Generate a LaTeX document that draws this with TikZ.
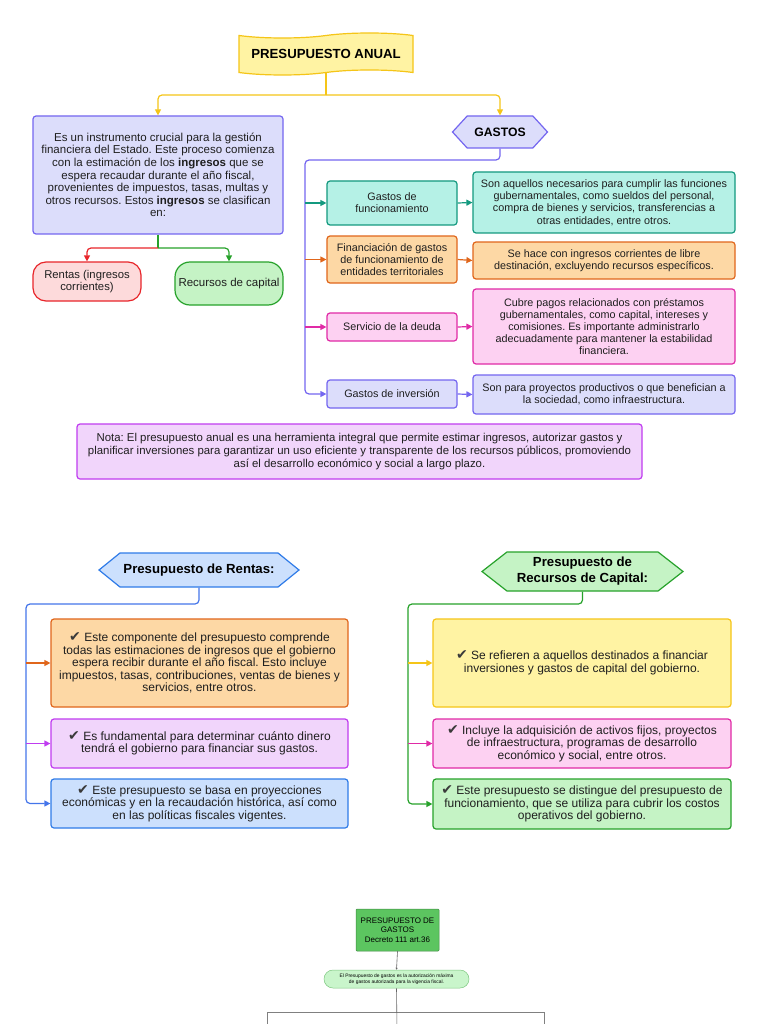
\documentclass[tikz,border=0pt]{standalone}
\usepackage{fontspec}
\setmainfont{Liberation Sans}
\newfontfamily\symfont{DejaVu Sans}
\usetikzlibrary{arrows.meta,positioning,shapes,shapes.symbols,calc}
\frenchspacing

\definecolor{ylwdraw}{HTML}{F5C518}
\definecolor{ylwfill}{HTML}{FFF3A3}
\definecolor{lavdraw}{HTML}{7466F0}
\definecolor{lavfill}{HTML}{DCDDFB}
\definecolor{reddraw}{HTML}{E8262B}
\definecolor{redfill}{HTML}{FDDADB}
\definecolor{grndraw}{HTML}{27A22B}
\definecolor{grnfill}{HTML}{C5F3C5}
\definecolor{tealdraw}{HTML}{13997F}
\definecolor{tealfill}{HTML}{B5F1E6}
\definecolor{orgdraw}{HTML}{E0661B}
\definecolor{orgfill}{HTML}{FDD8A5}
\definecolor{pnkdraw}{HTML}{E02AA6}
\definecolor{pnkfill}{HTML}{FDD1F2}
\definecolor{purdraw}{HTML}{C03CF0}
\definecolor{purfill}{HTML}{F1D5FB}
\definecolor{bludraw}{HTML}{2F7BE8}
\definecolor{blufill}{HTML}{CCE0FD}
\definecolor{chkgray}{HTML}{3A3A3A}
\definecolor{gasfill}{HTML}{5CC560}
\definecolor{pillfill}{HTML}{C9F5CB}

\newcommand{\chk}{{\symfont\fontsize{14}{12}\selectfont\color{chkgray}\char"2714}\ }

\begin{document}
\begin{tikzpicture}[
    x=1pt, y=-1pt,
    box/.style={rectangle, draw, rounded corners=3pt, line width=1.2pt, align=center, text=black!88, font=\fontsize{11.5}{12.6}\selectfont},
    small/.style={box, font=\fontsize{10.8}{12.2}\selectfont},
    item/.style={box, font=\fontsize{12}{12.5}\selectfont},
    hexa/.style={signal, signal to=east and west, draw, line width=1.2pt, align=center, font=\fontsize{13.2}{16}\selectfont\bfseries},
    arrow/.style={-{Triangle[length=6pt, width=6pt]}, line width=1.2pt, rounded corners=4pt},
    link/.style={line width=1.2pt, rounded corners=4pt}
]
\useasboundingbox (0,0) rectangle (768,1024);
\clip (0,0) rectangle (768,1024);
\fill[white] (0,0) rectangle (768,1024);

% Title
\node[tape, draw=ylwdraw, fill=ylwfill, line width=1.2pt, minimum width=174pt, minimum height=42pt, font=\fontsize{13.2}{15}\selectfont\bfseries] (title) at (326,54) {PRESUPUESTO ANUAL};

% Definition and income classes
\node[box, fill=lavfill, draw=lavdraw, minimum width=250pt, minimum height=118pt] (desc) at (158,175) {Es un instrumento crucial para la gestión\\financiera del Estado. Este proceso comienza\\con la estimación de los \textbf{ingresos} que se\\espera recaudar durante el año fiscal,\\provenientes de impuestos, tasas, multas y\\otros recursos. Estos \textbf{ingresos} se clasifican\\en:};
\node[box, fill=redfill, draw=reddraw, rounded corners=13pt, minimum width=108pt, minimum height=39pt, font=\fontsize{11.3}{12.5}\selectfont] (rentas) at (87,281.5) {Rentas (ingresos\\corrientes)};
\node[box, fill=grnfill, draw=grndraw, rounded corners=15pt, minimum width=108pt, minimum height=43pt, font=\fontsize{11.5}{12.5}\selectfont] (capital) at (229,283.5) {Recursos de capital};

% Gastos
\node[hexa, fill=lavfill, draw=lavdraw, signal pointer angle=95, minimum width=95pt, minimum height=32pt, font=\fontsize{12.2}{14}\selectfont\bfseries] (gastos) at (500,132) {GASTOS};

\node[small, fill=tealfill, draw=tealdraw, minimum width=130pt, minimum height=44pt] (func) at (392,203) {Gastos de\\funcionamiento};
\node[small, fill=orgfill, draw=orgdraw, minimum width=130pt, minimum height=47pt] (terr) at (392,259.5) {Financiación de gastos\\de funcionamiento de\\entidades territoriales};
\node[small, fill=pnkfill, draw=pnkdraw, minimum width=130pt, minimum height=28pt] (deuda) at (392,327) {Servicio de la deuda};
\node[small, fill=lavfill, draw=lavdraw, minimum width=130pt, minimum height=28pt] (inver) at (392,394) {Gastos de inversión};

\node[small, fill=tealfill, draw=tealdraw, minimum width=262pt, minimum height=61pt] (funcd) at (604,202.5) {Son aquellos necesarios para cumplir las funciones\\gubernamentales, como sueldos del personal,\\compra de bienes y servicios, transferencias a\\otras entidades, entre otros.};
\node[small, fill=orgfill, draw=orgdraw, minimum width=262pt, minimum height=37pt] (terrd) at (604,260.5) {Se hace con ingresos corrientes de libre\\destinación, excluyendo recursos específicos.};
\node[small, fill=pnkfill, draw=pnkdraw, minimum width=262pt, minimum height=75pt] (deudad) at (604,326.5) {Cubre pagos relacionados con préstamos\\gubernamentales, como capital, intereses y\\comisiones. Es importante administrarlo\\adecuadamente para mantener la estabilidad\\financiera.};
\node[small, fill=lavfill, draw=lavdraw, minimum width=262pt, minimum height=39pt] (inverd) at (604,394.5) {Son para proyectos productivos o que benefician a\\la sociedad, como infraestructura.};

% Note
\node[box, fill=purfill, draw=purdraw, minimum width=565pt, minimum height=55pt, font=\fontsize{11.4}{12.8}\selectfont] (nota) at (359.5,451.5) {Nota: El presupuesto anual es una herramienta integral que permite estimar ingresos, autorizar gastos y\\planificar inversiones para garantizar un uso eficiente y transparente de los recursos públicos, promoviendo\\así el desarrollo económico y social a largo plazo.};

% Connectors, top part
\coordinate (tsplit) at (326,95);
\draw[link, ylwdraw] (title.south) -- (tsplit);
\draw[arrow, ylwdraw] (tsplit) -| (desc.north);
\draw[arrow, ylwdraw] (tsplit) -| (gastos.north);

\coordinate (dsplit) at (158,248);
\draw[link, grndraw] (desc.south) -- (dsplit);
\draw[arrow, reddraw] (dsplit) -| (rentas.north);
\draw[arrow, grndraw] (dsplit) -| (capital.north);

\coordinate (gtrunk) at (305,160);
\draw[arrow, lavdraw] (gastos.south) |- (gtrunk) |- (inver.west);
\draw[arrow, tealdraw] (gtrunk |- func.west) -- (func.west);
\draw[arrow, orgdraw] (gtrunk |- terr.west) -- (terr.west);
\draw[arrow, pnkdraw] (gtrunk |- deuda.west) -- (deuda.west);
\draw[arrow, tealdraw] (func.east) -- (funcd.west);
\draw[arrow, orgdraw] (terr.east) -- (terrd.west);
\draw[arrow, pnkdraw] (deuda.east) -- (deudad.west);
\draw[arrow, lavdraw] (inver.east) -- (inverd.west);

% Presupuesto de Rentas
\node[hexa, fill=blufill, draw=bludraw, signal pointer angle=78, minimum width=200pt, minimum height=34pt] (rhex) at (199,570) {Presupuesto de Rentas:};
\node[item, fill=orgfill, draw=orgdraw, minimum width=297pt, minimum height=88pt] (ren1) at (199.5,663) {\chk Este componente del presupuesto comprende\\todas las estimaciones de ingresos que el gobierno\\espera recibir durante el año fiscal. Esto incluye\\impuestos, tasas, contribuciones, ventas de bienes y\\servicios, entre otros.};
\node[item, fill=purfill, draw=purdraw, minimum width=297pt, minimum height=49pt] (ren2) at (199.5,743.5) {\chk Es fundamental para determinar cuánto dinero\\tendrá el gobierno para financiar sus gastos.};
\node[item, fill=blufill, draw=bludraw, minimum width=297pt, minimum height=49pt] (ren3) at (199.5,803.5) {\chk Este presupuesto se basa en proyecciones\\económicas y en la recaudación histórica, así como\\en las políticas fiscales vigentes.};

\coordinate (rtrunk) at (26,604);
\draw[arrow, bludraw!70!lavdraw] (rhex.south) |- (rtrunk) |- (ren3.west);
\draw[arrow, orgdraw] (rtrunk |- ren1.west) -- (ren1.west);
\draw[arrow, purdraw] (rtrunk |- ren2.west) -- (ren2.west);

% Presupuesto de Recursos de Capital
\node[hexa, fill=grnfill, draw=grndraw, signal pointer angle=76, minimum width=201pt, minimum height=39pt] (chex) at (582.5,571.5) {Presupuesto de\\Recursos de Capital:};
\node[item, fill=ylwfill, draw=ylwdraw, minimum width=298pt, minimum height=88pt] (cap1) at (582,663) {\chk Se refieren a aquellos destinados a financiar\\inversiones y gastos de capital del gobierno.};
\node[item, fill=pnkfill, draw=pnkdraw, minimum width=298pt, minimum height=49pt] (cap2) at (582,743.5) {\chk Incluye la adquisición de activos fijos, proyectos\\de infraestructura, programas de desarrollo\\económico y social, entre otros.};
\node[item, fill=grnfill, draw=grndraw, minimum width=298pt, minimum height=50pt] (cap3) at (582,804) {\chk Este presupuesto se distingue del presupuesto de\\funcionamiento, que se utiliza para cubrir los costos\\operativos del gobierno.};

\coordinate (ctrunk) at (408,604);
\draw[arrow, grndraw] (chex.south) |- (ctrunk) |- (cap3.west);
\draw[arrow, ylwdraw] (ctrunk |- cap1.west) -- (cap1.west);
\draw[arrow, pnkdraw] (ctrunk |- cap2.west) -- (cap2.west);

% Presupuesto de Gastos (cut at the page end)
\node[rectangle, draw=gasfill!70!black, fill=gasfill, line width=0.5pt, rounded corners=1pt, minimum width=83pt, minimum height=42pt, align=center, font=\fontsize{8}{9.5}\selectfont] (pgastos) at (397.5,930) {PRESUPUESTO DE\\GASTOS\\Decreto 111 art.36};
\node[rectangle, draw=grndraw!60, fill=pillfill, line width=0.5pt, rounded corners=9pt, minimum width=145pt, minimum height=18pt, align=center, font=\fontsize{4.9}{6}\selectfont] (pill) at (396.5,979) {El Presupuesto de gastos es la autorización máxima\\de gastos autorizada para la vigencia fiscal.};
\draw[gray, line width=0.6pt] (267,1040) |- (544,1012) -- (544,1040);
\coordinate (cut) at (397,1030);
\draw[-{Triangle[length=2pt, width=2pt]}, gray!80!black, line width=0.6pt] (pgastos.south) -- (pill.north);
\draw[gray!80!black, line width=0.6pt] (pill.south) -- (cut);

\end{tikzpicture}
\end{document}
